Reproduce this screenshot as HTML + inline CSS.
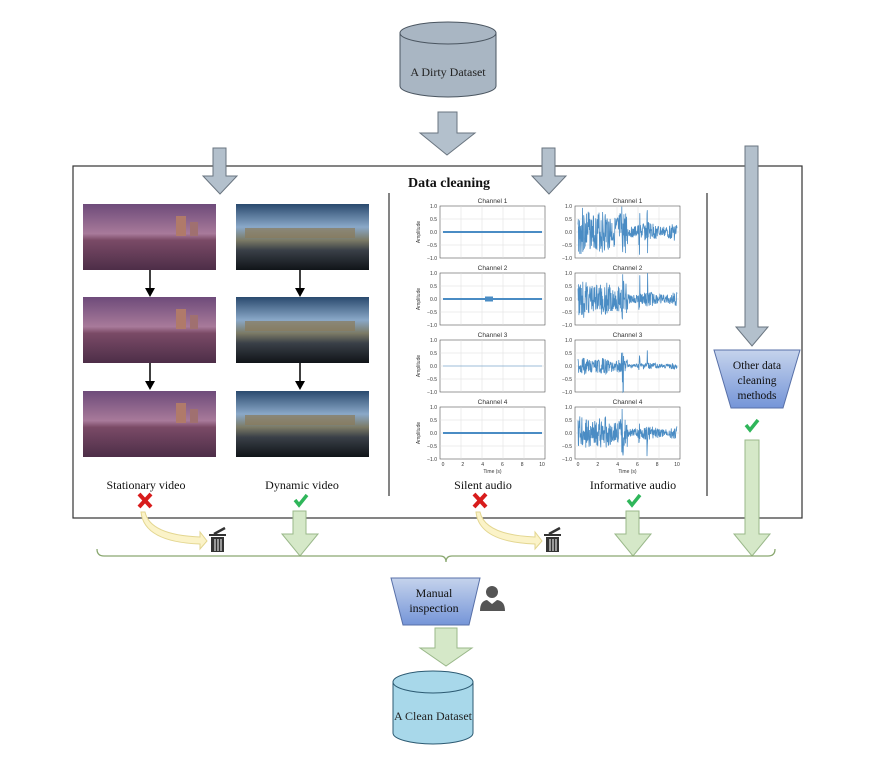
<!DOCTYPE html>
<html><head><meta charset="utf-8"><style>
body{margin:0;background:#fff}
svg{display:block}
text{font-family:"Liberation Serif",serif}
.s{font-family:"Liberation Sans",sans-serif;fill:#333}
</style></head><body>
<svg id="svg" width="884" height="757" viewBox="0 0 884 757" xmlns="http://www.w3.org/2000/svg">
<defs>
<linearGradient id="pur" x1="0" y1="0" x2="0" y2="1"><stop offset="0" stop-color="#6e4b7a"/><stop offset="0.45" stop-color="#a87a9a"/><stop offset="0.55" stop-color="#7a4a66"/><stop offset="1" stop-color="#4d2e48"/></linearGradient>
<linearGradient id="dyn" x1="0" y1="0" x2="0" y2="1"><stop offset="0" stop-color="#2a4a6e"/><stop offset="0.35" stop-color="#8aa8c8"/><stop offset="0.55" stop-color="#7b7a65"/><stop offset="0.7" stop-color="#3a4048"/><stop offset="1" stop-color="#101418"/></linearGradient>
<linearGradient id="mi" x1="0" y1="0" x2="0" y2="1"><stop offset="0" stop-color="#c5d3ec"/><stop offset="1" stop-color="#7595d8"/></linearGradient>
</defs>
<path d="M400 33 V86 A48 11 0 0 0 496 86 V33" fill="#a9b6c3" stroke="#4a5560" stroke-width="1"/>
<ellipse cx="448" cy="33" rx="48" ry="11" fill="#a9b6c3" stroke="#4a5560" stroke-width="1"/>
<text x="448" y="76" font-size="12" text-anchor="middle" fill="#222">A Dirty Dataset</text>
<polygon points="438,112 457,112 457,133 475,133 447,155 420,133 438,133" fill="#b3c0cc" stroke="#6a7580"/>
<rect x="73" y="166" width="729" height="352" fill="none" stroke="#333" stroke-width="1.2"/>
<text x="449" y="187" font-size="14" font-weight="bold" text-anchor="middle" fill="#111">Data cleaning</text>
<line x1="389" y1="193" x2="389" y2="496" stroke="#333" stroke-width="1.2"/>
<line x1="707" y1="193" x2="707" y2="496" stroke="#333" stroke-width="1.2"/>
<polygon points="213,148 226,148 226,176 237,176 220,194 203,176 213,176" fill="#b3c0cc" stroke="#6a7580"/>
<polygon points="542,148 555,148 555,176 566,176 549,194 532,176 542,176" fill="#b3c0cc" stroke="#6a7580"/>
<polygon points="745,146 758,146 758,327 768,327 752,346 736,327 745,327" fill="#b3c0cc" stroke="#6a7580"/>
<g id="imgs"></g>
<g id="plots"></g>
<text x="146" y="489" font-size="12" text-anchor="middle" fill="#111">Stationary video</text>
<text x="302" y="489" font-size="12" text-anchor="middle" fill="#111">Dynamic video</text>
<text x="483" y="489" font-size="12" text-anchor="middle" fill="#111">Silent audio</text>
<text x="633" y="489" font-size="12" text-anchor="middle" fill="#111">Informative audio</text>
<g stroke="#d81c1c" stroke-width="4" stroke-linecap="butt">
<line x1="139" y1="494" x2="151" y2="507"/><line x1="151" y1="494" x2="139" y2="507"/>
<line x1="474" y1="494" x2="486" y2="507"/><line x1="486" y1="494" x2="474" y2="507"/>
</g>
<g fill="none" stroke="#2fb65a" stroke-width="3.5">
<path d="M295 500 L299 505 L307 495"/><path d="M628 500 L632 505 L640 495"/><path d="M746 425 L750 430 L758 420"/>
</g>
<polygon points="714,350 800,350 783,408 731,408" fill="url(#mi)" stroke="#5870a8"/>
<text x="757" y="369" font-size="11.5" text-anchor="middle" fill="#111">Other data</text>
<text x="757" y="384" font-size="11.5" text-anchor="middle" fill="#111">cleaning</text>
<text x="757" y="399" font-size="11.5" text-anchor="middle" fill="#111">methods</text>
<g fill="#d5e8c8" stroke="#9ab88a">
<polygon points="293,511 306,511 306,534 318,534 300,556 282,534 293,534"/>
<polygon points="626,511 639,511 639,534 651,534 633,556 615,534 626,534"/>
<polygon points="745,440 759,440 759,534 770,534 752,556 734,534 745,534"/>
<polygon points="435,628 457,628 457,648 472,648 446,666 420,648 435,648"/>
</g>
<g fill="#fbf3c8" stroke="#e3d690">
<path d="M145 512 Q150 535 200 537 L200 532 L207 541 L200 549 L200 544 Q144 542 141 512 Z"/>
<path d="M480 512 Q485 535 535 537 L535 532 L542 541 L535 549 L535 544 Q479 542 476 512 Z"/>
</g>
<g fill="#333">
<rect x="211" y="537" width="13" height="15"/><rect x="209" y="534" width="17" height="2"/>
<rect x="546" y="537" width="13" height="15"/><rect x="544" y="534" width="17" height="2"/>
<line x1="214" y1="534" x2="225" y2="528" stroke="#333" stroke-width="2.5"/>
<line x1="549" y1="534" x2="560" y2="528" stroke="#333" stroke-width="2.5"/>
</g>
<g stroke="#fff" stroke-width="1"><line x1="215" y1="539" x2="215" y2="551"/><line x1="218" y1="539" x2="218" y2="551"/><line x1="221" y1="539" x2="221" y2="551"/>
<line x1="550" y1="539" x2="550" y2="551"/><line x1="553" y1="539" x2="553" y2="551"/><line x1="556" y1="539" x2="556" y2="551"/></g>
<path d="M97 549 Q97 556 104 556 L440 556 Q446 556 446 562 Q446 556 452 556 L768 556 Q775 556 775 549" fill="none" stroke="#8aa870" stroke-width="1.3"/>
<polygon points="391,578 480,578 469,625 403,625" fill="url(#mi)" stroke="#5870a8"/>
<text x="434" y="597" font-size="12" text-anchor="middle" fill="#111">Manual</text>
<text x="434" y="612" font-size="12" text-anchor="middle" fill="#111">inspection</text>
<circle cx="492" cy="592" r="6" fill="#555"/>
<path d="M480 611 Q480 601 487 600 L492 604 L497 600 Q505 601 505 611 Z" fill="#555"/>
<path d="M393 682 V733 A40 11 0 0 0 473 733 V682" fill="#a8d8ea" stroke="#2c5a72"/>
<ellipse cx="433" cy="682" rx="40" ry="11" fill="#a8d8ea" stroke="#2c5a72"/>
<text x="433" y="720" font-size="12" text-anchor="middle" fill="#222">A Clean Dataset</text>
</svg>
<script>
var NS="http://www.w3.org/2000/svg";
function el(t,a,p){var e=document.createElementNS(NS,t);for(var k in a)e.setAttribute(k,a[k]);(p||document.getElementById('svg')).appendChild(e);return e;}
var im=document.getElementById('imgs');
var rows=[204,297,391];
rows.forEach(function(y,i){
 el('rect',{x:83,y:y,width:133,height:66,fill:'url(#pur)'},im);
 el('rect',{x:176,y:y+12,width:10,height:20,fill:'#b07a6a'},im);
 el('rect',{x:190,y:y+18,width:8,height:14,fill:'#a07070'},im);
 el('rect',{x:236,y:y,width:133,height:66,fill:'url(#dyn)'},im);
 el('rect',{x:245,y:y+24,width:110,height:10,fill:'#8a7a5a',opacity:0.7},im);
 if(i<2){
  [150,300].forEach(function(x){el('line',{x1:x,y1:y+66,x2:x,y2:y+88,stroke:'#000','stroke-width':1.5},im);el('polygon',{points:(x-5)+','+(y+84)+' '+(x+5)+','+(y+84)+' '+x+','+(y+93),fill:'#000'},im);});
 }
});
var pl=document.getElementById('plots');
var seed=3;function rnd(){seed=(seed*9301+49297)%233280;return seed/233280;}
var prow=[206,273,340,407], ph=52;
function axes(x0,w,y0,title,yl){
 el('text',{x:x0+w/2,y:y0-3,'font-size':6.5,'text-anchor':'middle','class':'s'},pl).textContent=title;
 el('rect',{x:x0,y:y0,width:w,height:ph,fill:'#fff',stroke:'#555','stroke-width':0.6},pl);
 for(var i=1;i<5;i++){el('line',{x1:x0+w*i/5,y1:y0,x2:x0+w*i/5,y2:y0+ph,stroke:'#ddd','stroke-width':0.5},pl);}
 for(var j=1;j<4;j++){el('line',{x1:x0,y1:y0+ph*j/4,x2:x0+w,y2:y0+ph*j/4,stroke:'#ddd','stroke-width':0.5},pl);}
 ['1.0','0.5','0.0','\u22120.5','\u22121.0'].forEach(function(t,j){el('text',{x:x0-3,y:y0+ph*j/4+2,'font-size':5,'text-anchor':'end','class':'s'},pl).textContent=t;});
 if(yl){var t=el('text',{x:0,y:0,'font-size':5,'text-anchor':'middle','class':'s',transform:'translate('+(x0-20)+','+(y0+ph/2)+') rotate(-90)'},pl);t.textContent='Amplitude';}
}
prow.forEach(function(y0,r){
 var lx=440,lw=105,rx=575,rw=105;
 axes(lx,lw,y0,'Channel '+(r+1),true);
 axes(rx,rw,y0,'Channel '+(r+1),false);
 var mid=y0+ph/2;
 if(r!=2) el('rect',{x:lx+3,y:mid-1,width:lw-6,height:2,fill:'#4a8cc4'},pl);
 else el('line',{x1:lx+3,y1:mid,x2:lx+lw-3,y2:mid,stroke:'#4a8cc4','stroke-width':0.6},pl);
 if(r==1) el('rect',{x:lx+45,y:mid-2.5,width:8,height:5,fill:'#4a8cc4'},pl);
 var d='',amp=[0.85,0.65,0.3,0.6][r];
 for(var x=0;x<rw-6;x+=0.3){
  var f=x/(rw-6),env=amp*(f<0.5?1-0.4*f+0.15*Math.sin(f*30):0.35+0.1*Math.sin(f*20));
  if(Math.abs(f-0.45)<0.012||Math.abs(f-0.62)<0.006||Math.abs(f-0.7)<0.006) env=1;
  var v=(rnd()*2-1)*env*ph/2;
  d+=(d?'L':'M')+(rx+3+x).toFixed(1)+' '+(mid+v).toFixed(1);
 }
 el('path',{d:d,fill:'none',stroke:'#4a8cc4','stroke-width':0.8},pl);
 if(r==3){
  ['0','2','4','6','8','10'].forEach(function(t,i){
   el('text',{x:lx+3+i*(lw-6)/5,y:y0+ph+7,'font-size':5,'text-anchor':'middle','class':'s'},pl).textContent=t;
   el('text',{x:rx+3+i*(rw-6)/5,y:y0+ph+7,'font-size':5,'text-anchor':'middle','class':'s'},pl).textContent=t;
  });
  el('text',{x:lx+lw/2,y:y0+ph+14,'font-size':5,'text-anchor':'middle','class':'s'},pl).textContent='Time (s)';
  el('text',{x:rx+rw/2,y:y0+ph+14,'font-size':5,'text-anchor':'middle','class':'s'},pl).textContent='Time (s)';
 }
});
</script>
</body></html>
